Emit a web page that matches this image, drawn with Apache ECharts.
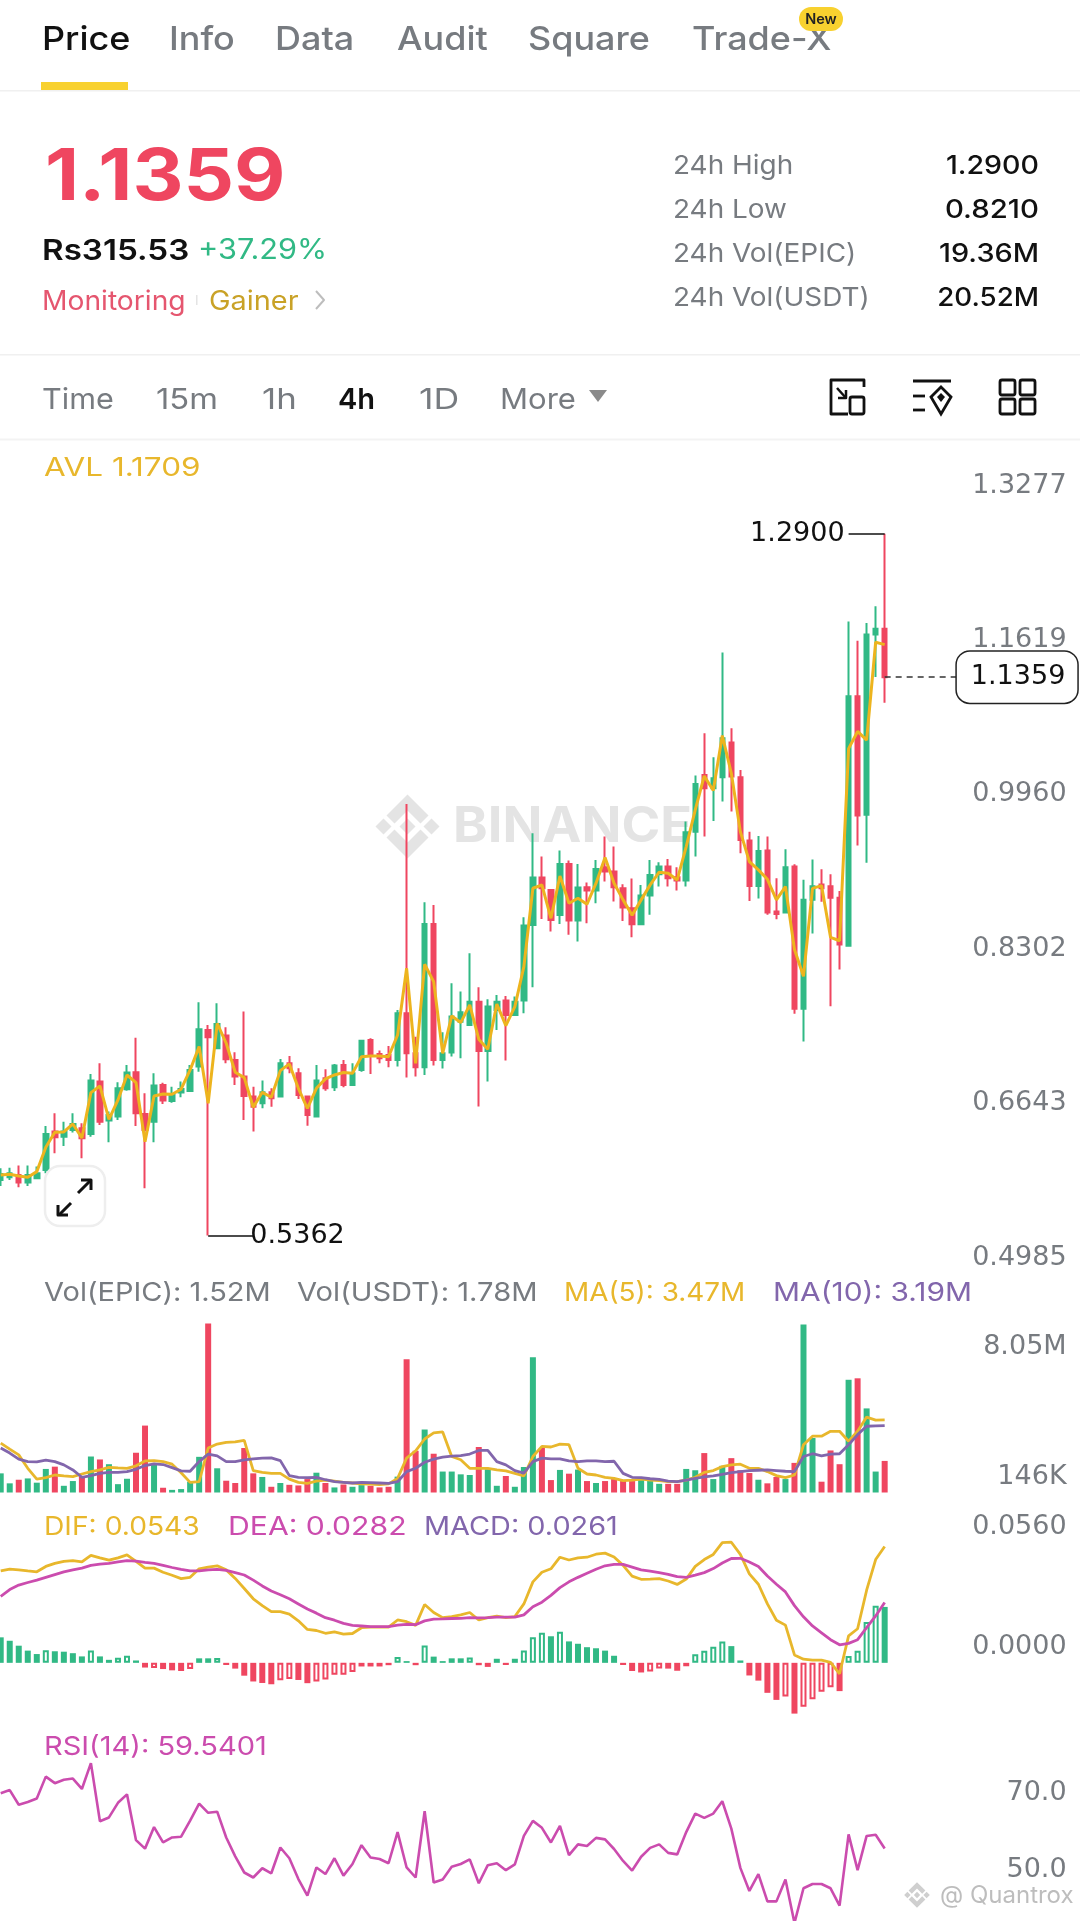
<!DOCTYPE html>
<html><head><meta charset="utf-8">
<style>html,body{margin:0;padding:0;background:#fff}#c{width:1080px;height:1921px}</style>
<script src="https://cdn.jsdelivr.net/npm/echarts@6/dist/echarts.min.js"></script>
</head><body><div id="c"></div>
<script>
const open=[.5959,.5987,.6012,.5930,.5977,.6066,.6478,.6424,.6496,.6514,.6453,.7015,.6596,.6639,.6933,.7115,.6668,.6585,.6979,.6807,.6897,.6915,.7176,.7570,.7373,.7509,.7248,.7069,.6854,.6782,.6900,.6854,.7212,.7104,.6854,.6639,.7051,.6954,.7194,.6979,.7140,.7462,.7312,.7301,.7248,.7749,.7319,.7169,.8708,.7248,.7327,.7659,.7624,.7874,.7344,.7785,.7885,.7731,.7885,.8698,.9206,.9074,.8805,.9353,.8745,.9103,.9067,.9317,.9271,.9092,.8877,.8705,.9013,.9242,.9325,.9210,.9174,.9700,1.0309,1.0166,1.0284,1.0656,1.0284,.9604,.9117,.9496,.8841,.8831,.9326,.7797,.8968,.9132,.9112,.8989,.8475,1.1155,.9880,1.1816,1.1878];
const close=[.6023,.6030,.5930,.6012,.6030,.6453,.6417,.6478,.6560,.6406,.7026,.6585,.6657,.6943,.7112,.6675,.6496,.6972,.6811,.6872,.6936,.7140,.7577,.7491,.7634,.7255,.7069,.6861,.6746,.6900,.6836,.7212,.7158,.6872,.6657,.7026,.6943,.7187,.6979,.7104,.7455,.7301,.7266,.7248,.7749,.7319,.7169,.8708,.7248,.7319,.7713,.7760,.7874,.7344,.7821,.7874,.7731,.7874,.8691,.9206,.9091,.8751,.9353,.8745,.9099,.9067,.9299,.9271,.9103,.8884,.8705,.9013,.9235,.9325,.9199,.9174,.9693,1.0212,1.0166,1.0273,1.0703,1.0291,.9611,.9117,.9493,.8831,.8816,.9317,.7797,.8968,.9112,.9091,.8989,.8487,1.1155,.9872,1.1816,1.1878,1.1359];
const low=[.5894,.5959,.5880,.5894,.5966,.6030,.6245,.6324,.6467,.6192,.6424,.6550,.6363,.6603,.6918,.6539,.5869,.6363,.6775,.6789,.6847,.6908,.7122,.5362,.7362,.7212,.6979,.6603,.6478,.6728,.6746,.6847,.7104,.6829,.6542,.6632,.6918,.6915,.6954,.6972,.7122,.7097,.7212,.7169,.7176,.7058,.7069,.7087,.7187,.7155,.7284,.7266,.7624,.6747,.7015,.7570,.7241,.7731,.7749,.8028,.8762,.8626,.8709,.8591,.8519,.8716,.8931,.9163,.8949,.8741,.8566,.8698,.8806,.9110,.9110,.9067,.9110,.9432,.9647,.9815,1.0023,.9915,.9468,.8956,.8981,.8806,.8759,.8823,.7743,.7447,.8606,.8947,.7825,.8220,.8467,.9552,.9367,1.1360,1.1085];
const high=[.6084,.6091,.6113,.6113,.6102,.6539,.6675,.6585,.6675,.6567,.7097,.7212,.6693,.7008,.7194,.7487,.6890,.7104,.7004,.6961,.7015,.7194,.7867,.7623,.7856,.7598,.7330,.7767,.6961,.7026,.6943,.7258,.7290,.7158,.6854,.7194,.7147,.7205,.7248,.7212,.7462,.7480,.7348,.7398,.7785,.9997,.7498,.8941,.8913,.7545,.8071,.7982,.8393,.8028,.7899,.7946,.7935,.7928,.8780,.9682,.9432,.9074,.9496,.9389,.9353,.9153,.9396,.9647,.9539,.9135,.9196,.9128,.9396,.9371,.9407,.9317,.9808,1.0302,1.0757,1.0499,1.1623,1.0810,1.0363,.9700,.9654,.9647,.9199,.9511,.9350,.9182,.9400,.9297,.9243,.9063,1.1956,1.1750,1.1940,1.2120,1.2900];
const avl=[.6012,.6020,.6002,.5987,.6048,.6310,.6471,.6474,.6560,.6410,.6897,.6968,.6610,.6818,.7086,.7004,.6370,.6861,.6882,.6879,.6933,.7140,.7391,.6782,.7641,.7427,.7115,.7058,.6739,.6900,.6847,.7133,.7205,.6943,.6728,.6943,.7044,.7086,.7112,.7104,.7283,.7290,.7290,.7283,.7516,.8232,.7212,.8275,.8089,.7319,.7720,.7649,.7839,.7470,.7362,.7849,.7617,.7821,.8250,.9092,.9127,.8769,.9224,.8931,.8985,.8920,.9146,.9421,.9146,.8967,.8802,.8967,.9128,.9264,.9253,.9181,.9539,.9933,1.0298,1.0141,1.0732,1.0327,.9700,.9378,.9289,.9188,.8967,.9110,.8434,.8146,.9091,.9120,.8565,.8528,1.0591,1.0776,1.0682,1.1734,1.1709];
const volume=[1.17,.56,.78,.86,.60,1.44,1.58,.41,.70,.97,2.20,2.02,1.73,.51,.84,2.43,4.09,1.73,.29,.16,.21,.66,2.18,10.33,1.48,.72,.58,2.72,1.17,.95,.35,.58,.47,.43,.82,1.21,.58,.31,.49,.35,.45,.41,.31,.35,.97,8.15,2.55,3.85,2.37,1.28,1.28,1.11,1.07,2.78,1.42,.41,1.01,.35,1.56,8.27,2.72,.76,1.38,1.15,1.40,.70,.58,.70,.82,.70,.70,.86,.82,.53,.53,.53,1.44,1.36,2.41,.82,1.63,2.10,1.36,1.19,.78,.56,.95,.82,1.81,10.27,3.33,.66,2.57,1.73,6.89,6.98,5.14,1.28,1.93];
const volMa5=[3.02,2.65,2.30,1.48,.82,.91,1.07,1.01,.97,1.13,1.28,1.38,1.54,1.50,1.48,1.63,1.93,1.95,1.89,1.73,1.21,.62,.66,2.72,2.96,3.07,3.09,3.19,1.34,1.23,1.17,1.17,.82,.62,.56,.70,.76,.70,.62,.58,.53,.51,.49,.53,.86,2.10,2.55,3.27,3.64,3.70,2.20,2.00,1.48,1.48,1.48,1.38,1.32,1.17,1.01,2.20,2.82,2.78,2.96,2.92,1.48,1.13,1.07,.93,.86,.72,.76,.82,.76,.72,.66,.66,.76,.93,1.23,1.34,1.58,1.69,1.73,1.48,1.48,1.28,1.03,.91,1.07,2.92,3.44,3.44,3.74,3.74,3.13,3.74,4.61,4.42,4.44];
const volMa10=[2.72,2.41,2.04,1.89,1.87,1.98,1.89,1.69,1.38,.93,1.03,1.17,1.23,1.23,1.28,1.42,1.65,1.75,1.71,1.52,1.32,1.30,1.89,2.35,2.24,1.89,1.89,2.00,2.06,2.10,2.12,1.95,1.03,.93,.91,.93,.78,.66,.62,.58,.62,.60,.58,.56,.66,1.28,1.48,1.85,2.04,2.16,2.22,2.26,2.35,2.57,2.57,1.89,1.69,1.34,1.19,1.89,2.10,2.06,2.06,1.93,1.89,1.93,1.93,1.89,1.91,1.17,.93,.91,.84,.80,.70,.66,.76,.86,.95,1.01,1.11,1.21,1.28,1.34,1.36,1.38,1.34,1.30,1.28,2.20,2.37,2.24,2.35,2.37,2.92,3.54,4.05,4.07,4.09];
const macdHist=[.0119,.0103,.0080,.0057,.0041,.0059,.0054,.0052,.0045,.0030,.0057,.0030,.0014,.0024,.0033,.0011,-.0022,-.0024,-.0029,-.0035,-.0038,-.0029,.0021,.0021,.0022,-.0010,-.0027,-.0060,-.0087,-.0094,-.0100,-.0081,-.0075,-.0080,-.0095,-.0087,-.0078,-.0056,-.0056,-.0043,-.0017,-.0017,-.0017,-.0011,.0027,.0008,-.0011,.0081,.0029,.0008,.0021,.0021,.0025,-.0011,-.0019,.0019,-.0010,.0019,.0057,.0119,.0140,.0124,.0145,.0100,.0089,.0073,.0068,.0057,.0033,-.0010,-.0038,-.0045,-.0041,-.0027,-.0027,-.0037,-.0016,.0040,.0056,.0075,.0100,.0078,.0011,-.0059,-.0083,-.0140,-.0173,-.0157,-.0237,-.0205,-.0170,-.0135,-.0114,-.0132,.0032,.0056,.0191,.0267,.0261];
const hollowBars=[5,10,13,14,17,21,24,31,32,35,36,37,38,39,44,47,52,58,59,60,62,72,73,77,78,79,80,87,89,90,91,92,94,95,96,97];
const dif=[.0429,.0437,.0434,.0429,.0425,.0450,.0464,.0474,.0477,.0471,.0502,.0490,.0479,.0490,.0504,.0474,.0442,.0442,.0423,.0409,.0393,.0399,.0439,.0447,.0453,.0434,.0394,.0347,.0299,.0267,.0239,.0239,.0227,.0196,.0156,.0151,.0138,.0145,.0134,.0137,.0164,.0167,.0167,.0167,.0200,.0192,.0175,.0272,.0235,.0211,.0216,.0224,.0235,.0200,.0211,.0218,.0211,.0216,.0275,.0378,.0423,.0439,.0493,.0480,.0490,.0493,.0507,.0512,.0494,.0455,.0405,.0390,.0391,.0393,.0382,.0366,.0391,.0450,.0482,.0506,.0561,.0563,.0506,.0415,.0367,.0275,.0199,.0176,.0037,.0017,.0013,.0013,.0002,-.0051,.0126,.0159,.0339,.0482,.0543];
const dea=[.0310,.0342,.0363,.0375,.0386,.0399,.0412,.0425,.0434,.0442,.0455,.0461,.0464,.0471,.0477,.0475,.0469,.0464,.0455,.0445,.0436,.0429,.0429,.0434,.0436,.0432,.0421,.0410,.0386,.0359,.0335,.0318,.0299,.0275,.0251,.0232,.0211,.0199,.0184,.0175,.0172,.0169,.0169,.0169,.0176,.0180,.0178,.0196,.0204,.0205,.0207,.0208,.0211,.0210,.0211,.0213,.0213,.0213,.0224,.0262,.0283,.0315,.0351,.0378,.0399,.0418,.0437,.0453,.0460,.0460,.0447,.0434,.0428,.0421,.0413,.0402,.0399,.0409,.0421,.0440,.0466,.0487,.0488,.0471,.0450,.0405,.0367,.0331,.0267,.0215,.0172,.0140,.0108,.0084,.0091,.0108,.0164,.0219,.0282];
const rsi=[73.9,74.7,70.9,71.6,72.5,78.2,76.5,77.4,77.7,75.0,81.7,66.6,67.6,71.4,73.6,61.7,59.5,65.1,61.1,62.4,62.6,66.8,71.2,68.8,69.1,62.4,57.5,53.3,52.0,54.4,53.1,59.8,57.0,51.6,47.3,54.6,52.9,57.0,52.5,55.5,60.4,57.2,56.8,55.7,63.8,54.6,52.0,69.2,50.7,51.5,54.8,55.5,56.7,50.5,55.2,55.7,53.9,55.4,62.8,66.7,64.9,61.1,65.4,57.8,60.6,60.2,62.3,61.9,59.4,56.3,53.8,57.4,59.7,60.6,58.4,58.0,63.8,68.6,67.5,68.6,71.8,64.7,54.5,48.5,52.9,45.8,45.8,51.5,40.2,49.2,50.3,50.3,49.2,44.7,63.2,53.9,62.8,63.1,59.54];
const priceTicks=[1.3277,1.1619,.9960,.8302,.6643,.4985];
const volTicks=[8.05,.146];
const macdTicks=[.056,0];
const rsiTicks=[70,50];
const lastPrice=1.1359, highMark=1.29, lowMark=.5362;
const tabs=[['Price',42],['Info',169],['Data',275],['Audit',397],['Square',528],['Trade-X',692]];
const stats=[['24h High','1.2900',164,1.10],['24h Low','0.8210',208,1.13],['24h Vol(EPIC)','19.36M',252,1.11],['24h Vol(USDT)','20.52M',296,1.065]];
const periods=[['Time',42,1.055],['15m',156,1.13],['1h',262,1.2],['4h',338,1],['1D',419,1.23],['More',500,1.07]];

const FONT='Inter, "Noto Sans", sans-serif';
const NUMFONT='"DejaVu Sans", sans-serif';
const GREEN='#31B985',RED='#EF4660',YEL='#E8B72C',PUR='#8266AC',MAG='#CB4CAE',GRAY='#777B80';
const TOTAL=120;
const cats=Array.from({length:TOTAL},(_,i)=>String(i));
const up=i=>close[i]>=open[i];

function T(x,y,text,size,fill,weight,align,sx){
  return {type:'text',z:50,silent:true,x,y:y+size*0.065,scaleX:sx||1,style:{x:0,y:0,text,fill,fontSize:size,fontFamily:FONT,fontWeight:weight||400,
    font:(weight||400)+' '+size+'px '+FONT,textAlign:align||'left',align:align||'left',
    textVerticalAlign:'middle',verticalAlign:'middle'}};
}
function L(pts,stroke,w){return {type:'polyline',z:50,silent:true,shape:{points:pts},style:{stroke,lineWidth:w||2.6,fill:null,lineJoin:'round'}};}
function R(x,y,width,height,fill,r,stroke,w){return {type:'rect',z:50,silent:true,shape:{x,y,width,height,r:r||0},style:{fill:fill||'none',stroke:stroke||null,lineWidth:w||0}};}
function P(pts,fill,z){return {type:'polygon',z:z===undefined?50:z,silent:true,shape:{points:pts},style:{fill}};}
function logo(cx,cy,s,fill,z){
  const d=(x,y,r)=>P([[cx+x*s,cy+(y-r)*s],[cx+(x+r)*s,cy+y*s],[cx+x*s,cy+(y+r)*s],[cx+(x-r)*s,cy+y*s]],fill,z);
  const chev=k=>P([[cx,cy+k*32*s],[cx+21*s,cy+k*11*s],[cx+13*s,cy+k*3*s],[cx,cy+k*16*s],[cx-13*s,cy+k*3*s],[cx-21*s,cy+k*11*s]],fill,z);
  return [d(0,0,8),d(-24,0,8),d(24,0,8),chev(-1),chev(1)];
}

const g=[];
tabs.forEach((t,i)=>g.push(T(t[1],38,t[0],33,i==0?'#111':GRAY,500,'left',1.09)));
g.push(R(41,82,87,8,'#F8D12F'));
g.push(R(0,90,1080,1.5,'#F0F0F0'));
g.push(R(799,7,44,24,'#F8D12F',12));
g.push(T(821,19,'New',14.5,'#222',600,'center'));
g.push(T(45,174,'1.1359',71,RED,700,'left',1.114));
g.push(T(42,249,'Rs315.53',29,'#111',600,'left',1.144));
g.push(T(198,249,'+37.29%',28,GREEN,400,'left',1.096));
g.push(T(42,300,'Monitoring',27,'#E5566F',400,'left',1.045));
g.push(R(196,295,1.5,10,'#E4E4E4'));
g.push(T(209,300,'Gainer',27,'#C9A227',400,'left',1.07));
g.push(L([[316,291],[324,300],[316,309]],'#BDBDBD',2));
stats.forEach(s=>{g.push(T(673,s[2],s[0],26,GRAY,400,'left',1.074));g.push(T(1039,s[2],s[1],26,'#111',500,'right',s[3]));});
g.push(R(0,354,1080,1.5,'#F0F0F0'));
periods.forEach(p=>g.push(T(p[1],398,p[0],29,p[0]=='4h'?'#111':GRAY,p[0]=='4h'?600:400,'left',p[2])));
g.push(P([[589,390],[607,390],[598,402]],'#8A8A8A'));
g.push(L([[864,387],[864,380],[831,380],[831,414],[848,414]],'#111',2.8));
g.push(R(850,397,14,17,null,2,'#111',2.8));
g.push(L([[837,388],[846,398]],'#111',2.5));
g.push(L([[846,390],[846,398],[838,398]],'#111',2.5));
g.push(L([[913,381],[951,381]],'#111',2.8));
g.push(L([[913,396],[925,396]],'#111',2.8));
g.push(L([[913,410],[925,410]],'#111',2.8));
g.push({type:'polygon',z:50,silent:true,shape:{points:[[941,387],[951,397],[941,414],[931,397]]},style:{fill:'none',stroke:'#111',lineWidth:2.8}});
g.push(P([[941,393],[945,397],[941,402],[937,397]],'#111'));
[[1000,380],[1020,380],[1000,399],[1020,399]].forEach(a=>g.push(R(a[0],a[1],15,15,null,2,'#111',2.8)));
g.push(R(0,438.5,1080,2,'#F3F3F3'));
g.push(T(44,466,'AVL 1.1709',26,YEL,400,'left',1.21));
logo(407.5,826.5,1,'#E4E4E4',0).forEach(e=>g.push(e));
g.push({type:'text',z:0,silent:true,x:453,y:827,scaleX:1.07,style:{x:0,y:0,text:'BINANCE',fill:'#E4E4E4',font:'700 49px '+FONT,textVerticalAlign:'middle',verticalAlign:'middle'}});
g.push(R(45,1166,60,60,'#fff',15,'#EEEEEE',2.5));
g.push(L([[78,1193],[90,1181]],'#111',3));
g.push(L([[81,1180],[91,1180],[91,1190]],'#111',3));
g.push(L([[71,1203],[59,1215]],'#111',3));
g.push(L([[58,1205],[58,1215],[68,1215]],'#111',3));
g.push(T(44,1291,'Vol(EPIC): 1.52M',26,GRAY,400,'left',1.115));
g.push(T(297,1291,'Vol(USDT): 1.78M',26,GRAY,400,'left',1.12));
g.push(T(564,1291,'MA(5): 3.47M',26,YEL,400,'left',1.073));
g.push(T(773,1291,'MA(10): 3.19M',26,PUR,400,'left',1.15));
g.push(T(44,1525,'DIF: 0.0543',26,YEL,400,'left',1.085));
g.push(T(228,1525,'DEA: 0.0282',26,MAG,400,'left',1.16));
g.push(T(424,1525,'MACD: 0.0261',26,PUR,400,'left',1.11));
g.push(T(44,1745,'RSI(14): 59.5401',26,MAG,400,'left',1.117));
logo(917,1895,.4,'#CFCFCF',50).forEach(e=>g.push(e));
g.push(T(940,1894,'@ Quantrox',24,'#BDBDBD'));

const X0=-3.8,W=TOTAL*9.02;
const grid=(top,height)=>({left:X0,width:W,top,height,containLabel:false,outerBoundsMode:'none'});
const xAx=i=>({type:'category',gridIndex:i,data:cats,boundaryGap:true,axisLine:{show:false},axisTick:{show:false},axisLabel:{show:false},splitLine:{show:false}});
const yAx=(i,min,max,ticks,fmt,lh)=>({type:'value',gridIndex:i,position:'right',min,max,axisLine:{show:false},axisTick:{show:false},splitLine:{show:false},
  axisLabel:{show:true,inside:true,margin:12,customValues:ticks,formatter:fmt,color:GRAY,fontFamily:NUMFONT,fontSize:27,verticalAlign:'bottom',lineHeight:lh}});
const line=(data,ax,color,w,z)=>({type:'line',data,xAxisIndex:ax,yAxisIndex:ax,showSymbol:false,symbol:'none',silent:true,z:z||5,lineStyle:{color,width:w},itemStyle:{color},animation:false});

const option={animation:false,backgroundColor:'#fff',graphic:{elements:g},
 grid:[grid(498.6,772),grid(1323.5,169),grid(1534.3,192.8),grid(1731.2,231)],
 xAxis:[xAx(0),xAx(1),xAx(2),xAx(3)],
 yAxis:[yAx(0,.4985,1.3277,priceTicks,v=>v.toFixed(4),26),
   yAx(1,0,10.33,volTicks,v=>v<1?Math.round(v*1000)+'K':v.toFixed(2)+'M',27),
   yAx(2,-.03,.06,macdTicks,v=>v.toFixed(4),32),
   yAx(3,30,90,rsiTicks,v=>v.toFixed(1),30)],
 series:[
  {type:'candlestick',xAxisIndex:0,yAxisIndex:0,barWidth:5,silent:true,z:3,
   data:open.map((o,i)=>[o,close[i],low[i],high[i]]),
   itemStyle:{color:GREEN,color0:RED,borderColor:GREEN,borderColor0:RED,borderWidth:2},
   markLine:{silent:true,symbol:'none',animation:false,z:10,
    data:[
     [{coord:[98,highMark],lineStyle:{color:'#111',width:1.5,type:'solid'},label:{show:true,position:'end',distance:4,formatter:highMark.toFixed(4),color:'#111',fontSize:27,fontFamily:NUMFONT,padding:[6,0,0,0]}},{coord:[94,highMark]}],
     [{coord:[23,lowMark],lineStyle:{color:'#111',width:1.5,type:'solid'},label:{show:true,position:'end',distance:-3,formatter:lowMark.toFixed(4),color:'#111',fontSize:27,fontFamily:NUMFONT,padding:[8,0,0,0]}},{coord:[28,lowMark]}],
     [{coord:[98,lastPrice],lineStyle:{color:'#333',width:1.5,type:[6,5]},label:{show:true,position:'end',distance:0,formatter:lastPrice.toFixed(4),color:'#111',fontSize:27,fontFamily:NUMFONT,backgroundColor:'#fff',borderColor:'#222',borderWidth:1.5,borderRadius:13,padding:[14,12,10,14]}},{coord:[106,lastPrice]}]
    ]}},
  line(avl,0,'#EDB41E',3,6),
  {type:'bar',xAxisIndex:1,yAxisIndex:1,barWidth:6,silent:true,z:3,data:volume.map((v,i)=>({value:v,itemStyle:{color:up(i)?GREEN:RED}}))},
  line(volMa5,1,'#E8B72C',2.8),
  line(volMa10,1,PUR,2.8,6),
  {type:'bar',xAxisIndex:2,yAxisIndex:2,barWidth:6,silent:true,z:3,data:macdHist.map((v,i)=>{const c=v>=0?GREEN:RED;
     return {value:v,itemStyle:hollowBars.includes(i)?{color:'#fff',borderColor:c,borderWidth:2}:{color:c}};})},
  line(dif,2,'#E8B72C',2.8),
  line(dea,2,MAG,2.8,6),
  line(rsi,3,MAG,2.6)
 ]};
const chart=echarts.init(document.getElementById('c'),null,{renderer:'canvas',width:1080,height:1921});
chart.setOption(option);
</script></body></html>
